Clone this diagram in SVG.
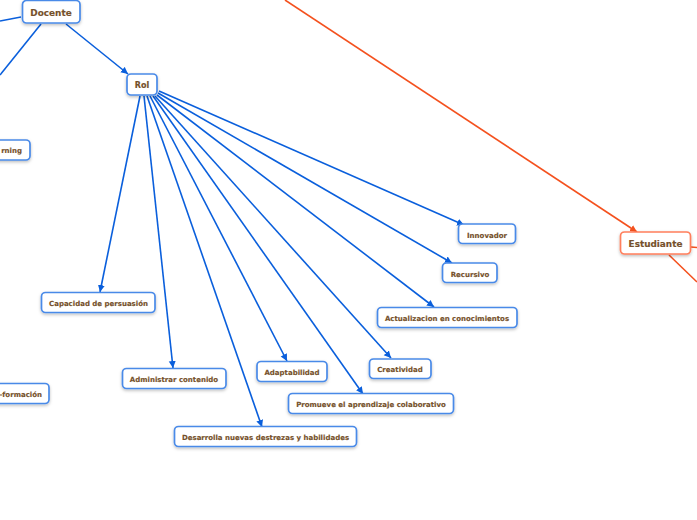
<svg xmlns="http://www.w3.org/2000/svg" width="697" height="520" viewBox="0 0 697 520">
<defs>
<marker id="ab" markerWidth="8" markerHeight="8" refX="7" refY="3.5" orient="auto" markerUnits="userSpaceOnUse"><path d="M0,0 L7,3.5 L0,7 Z" fill="#0a5fdc"/></marker>
<marker id="ao" markerWidth="8" markerHeight="8" refX="7" refY="3.5" orient="auto" markerUnits="userSpaceOnUse"><path d="M0,0 L7,3.5 L0,7 Z" fill="#f4511e"/></marker>
<filter id="sh" x="-20%" y="-40%" width="140%" height="180%"><feDropShadow dx="0" dy="1.5" stdDeviation="1.5" flood-color="#000" flood-opacity=".25"/></filter>
</defs>
<style>
.b{fill:#fff;stroke:#4a8ae8;stroke-width:1.7;filter:url(#sh)}
.o{fill:#fff;stroke:#ff7f5c;stroke-width:1.7;filter:url(#sh)}
.g{fill:#fff;stroke:none;filter:url(#sh)}
text{font-family:"DejaVu Sans","Liberation Sans",sans-serif;font-weight:700;fill:#75502a;stroke:#75502a;stroke-width:.15;text-anchor:middle;font-size:7px}
.m{font-size:8.9px}
.l{stroke:#0a5fdc;stroke-width:1.6;fill:none}
.r{stroke:#f4511e;stroke-width:1.6;fill:none}
</style>
<g id="connectors">
<path class="l" d="M21 17L0 21"/>
<path class="l" d="M41 24L0 75"/>
<path class="l" d="M66 24L128 74" marker-end="url(#ab)"/>
<path class="l" d="M140 96L100 292" marker-end="url(#ab)"/>
<path class="l" d="M144 96L173 368" marker-end="url(#ab)"/>
<path class="l" d="M147 96L262 427" marker-end="url(#ab)"/>
<path class="l" d="M150 96L287 361" marker-end="url(#ab)"/>
<path class="l" d="M153 96L363 394" marker-end="url(#ab)"/>
<path class="l" d="M155 96L391 358" marker-end="url(#ab)"/>
<path class="l" d="M157 95L434 307" marker-end="url(#ab)"/>
<path class="l" d="M158 93L452 263" marker-end="url(#ab)"/>
<path class="l" d="M159 91L464 225" marker-end="url(#ab)"/>
<path class="r" d="M285 0L637 232" marker-end="url(#ao)"/>
<path class="r" d="M691 247L697 247.5"/>
<path class="r" d="M669 255L697 282"/>
</g>
<g id="node-top"><rect class="g" x="541" y="-30" width="137" height="30" rx="3"/></g>
<g id="node-left"><rect class="g" x="-30" y="201" width="30" height="21" rx="3"/></g>
<g id="docente"><rect class="b" x="22.5" y="0.5" width="57.5" height="22.5" rx="4"/><text class="m" x="51" y="15.5">Docente</text></g>
<g id="rol"><rect class="b" x="127" y="74" width="30" height="21" rx="4"/><text x="142" y="88" style="font-size:8px">Rol</text></g>
<g id="learning"><rect class="b" x="-40" y="140" width="70" height="20" rx="4"/><text x="22" y="153" style="text-anchor:end">rning</text></g>
<g id="formacion"><rect class="b" x="-40" y="383.5" width="89" height="20" rx="4"/><text x="42" y="397" style="text-anchor:end">-formación</text></g>
<g id="capacidad"><rect class="b" x="41.5" y="292.5" width="113.5" height="20" rx="4"/><text x="98.5" y="305.5">Capacidad de persuasión</text></g>
<g id="administrar"><rect class="b" x="122.5" y="368.5" width="103.5" height="20" rx="4"/><text x="174" y="382">Administrar contenido</text></g>
<g id="desarrolla"><rect class="b" x="174.5" y="426.5" width="182" height="20" rx="4"/><text x="265.5" y="440">Desarrolla nuevas destrezas y habilidades</text></g>
<g id="adaptabilidad"><rect class="b" x="257" y="361.5" width="70" height="20" rx="4"/><text x="292" y="375">Adaptabilidad</text></g>
<g id="promueve"><rect class="b" x="288.5" y="393.5" width="165" height="20" rx="4"/><text x="371" y="406.5">Promueve el aprendizaje colaborativo</text></g>
<g id="creatividad"><rect class="b" x="369.5" y="359" width="61.5" height="19.5" rx="4"/><text x="400" y="372">Creatividad</text></g>
<g id="actualizacion"><rect class="b" x="377.5" y="307.5" width="139.5" height="20" rx="4"/><text x="447" y="321">Actualizacion en conocimientos</text></g>
<g id="recursivo"><rect class="b" x="442.5" y="263" width="54.5" height="19.5" rx="4"/><text x="470" y="276.5">Recursivo</text></g>
<g id="innovador"><rect class="b" x="458.5" y="224" width="57" height="19.5" rx="4"/><text x="487" y="237.5">Innovador</text></g>
<g id="estudiante"><rect class="o" x="620.5" y="232" width="70" height="22" rx="4"/><text class="m" x="655.5" y="247">Estudiante</text></g>
</svg>
